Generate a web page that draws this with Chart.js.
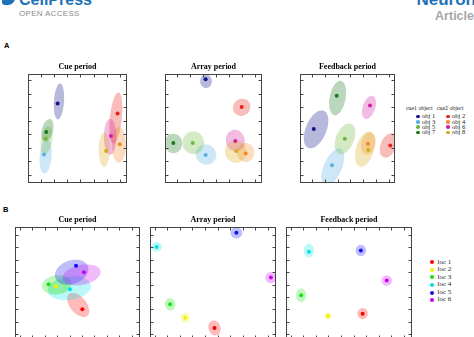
<!DOCTYPE html>
<html>
<head>
<meta charset="utf-8">
<script src="https://cdn.jsdelivr.net/npm/chart.js@4.4.1/dist/chart.umd.min.js"></script>
<style>
  body { margin: 0; width: 474px; height: 337px; overflow: hidden; background: #fff; position: relative; }
  canvas, .txt { position: absolute; }
  .txt { white-space: nowrap; }
  .sans { font-family: "Liberation Sans", Arial, sans-serif; }
  .serif { font-family: "Liberation Serif", "Times New Roman", serif; }
  .dot { position: absolute; border-radius: 50%; }
</style>
</head>
<body>
<div class="txt sans" style="left:2px;top:-8px;width:13px;height:13px;border-radius:0 0 7px 3px;background:#1d72b8"></div>
<div class="txt sans" style="left:19px;top:-8px;font-size:16px;line-height:16px;font-weight:bold;color:#1d72b8">CellPress</div>
<div class="txt sans" style="left:19px;top:10px;font-size:8px;line-height:8px;color:#8a8a8a;letter-spacing:0.3px">OPEN ACCESS</div>
<div class="txt sans" style="right:-2px;top:-9px;font-size:17px;line-height:17px;font-weight:bold;color:#1d72b8">Neuron</div>
<div class="txt sans" style="right:0px;top:10px;font-size:12.5px;line-height:13px;font-weight:bold;color:#a8a8a8">Article</div>
<div class="txt sans" style="left:4px;top:42px;font-size:7.5px;line-height:8px;font-weight:bold">A</div>
<div class="txt sans" style="left:3px;top:206px;font-size:7.5px;line-height:8px;font-weight:bold">B</div>

<canvas id="a1"></canvas>
<canvas id="a2"></canvas>
<canvas id="a3"></canvas>
<canvas id="b1"></canvas>
<canvas id="b2"></canvas>
<canvas id="b3"></canvas>
<div id="legendA"></div>
<div id="legendB"></div>

<script>
// ---- panel A: object identity ----
const OBJ_LABELS = ['obj 1', 'obj 2', 'obj 3', 'obj 4', 'obj 5', 'obj 6', 'obj 7', 'obj 8'];
const OBJ_COLORS = ['#14148f', '#e8221c', '#5aaee6', '#f28a2a', '#6cb840', '#d11d9e', '#1f7a1f', '#d9a91c'];

// ---- panel B: location ----
const LOC_LABELS = ['loc 1', 'loc 2', 'loc 3', 'loc 4', 'loc 5', 'loc 6'];
const LOC_COLORS = ['#ff0000', '#f2f200', '#18e018', '#00e2e2', '#1010f0', '#c800f0'];

const A_X_TICKS = [0, 1, 2, 3, 4, 5, 6];
const A_Y_TICKS = [0, 1, 2, 3, 4, 5, 6, 7];
const B_X_TICKS = [0, 1, 2, 3, 4, 5, 6, 7, 8, 9];
const B_Y_TICKS = [0, 1, 2, 3, 4, 5, 6, 7, 8];

// class means [x, y], in label order
const A_CUE_MEANS = [[1.28, 5.28], [5.79, 4.54], [0.25, 1.50], [5.96, 2.27], [0.38, 2.69], [5.29, 2.87], [0.42, 3.16], [4.93, 1.76]];
const A_ARRAY_MEANS = [[2.17, 7.06], [4.94, 5.01], [2.17, 1.46], [5.25, 1.58], [1.18, 2.35], [4.45, 2.50], [-0.31, 2.35], [4.52, 1.76]];
const A_FEEDBACK_MEANS = [[0.13, 3.39], [6.13, 2.17], [1.56, 0.72], [4.38, 2.30], [2.56, 2.67], [4.54, 5.13], [1.93, 5.85], [4.41, 1.83]];

// covariance ellipses [cx, cy, semi-axis x, semi-axis y, rotation deg]
const A_CUE_ELLIPSES = [
  [1.38, 5.43, 0.38, 1.33, -4], [5.66, 4.20, 0.45, 1.90, -6], [0.38, 1.36, 0.45, 1.26, -5], [5.89, 2.22, 0.53, 1.33, 0],
  [0.45, 2.55, 0.42, 1.05, -10], [5.23, 2.81, 0.47, 1.33, 0], [0.51, 3.30, 0.42, 0.85, -15], [4.78, 1.85, 0.41, 1.26, 0]
];
const A_ARRAY_ELLIPSES = [
  [2.20, 6.91, 0.45, 0.50, 0], [4.94, 4.99, 0.68, 0.62, 30], [2.20, 1.50, 0.80, 0.74, -20], [5.25, 1.65, 0.66, 0.70, 0],
  [1.22, 2.37, 0.83, 0.84, 15], [4.45, 2.54, 0.72, 0.80, 20], [-0.31, 2.32, 0.68, 0.72, 0], [4.48, 1.73, 0.83, 0.83, 0]
];
const A_FEEDBACK_ELLIPSES = [
  [0.31, 3.36, 0.80, 1.50, -25], [5.98, 2.17, 0.60, 0.95, -25], [1.62, 0.57, 0.70, 1.50, -25], [4.41, 2.32, 0.55, 0.85, -15],
  [2.58, 2.67, 0.70, 1.20, -25], [4.46, 4.99, 0.48, 0.90, -20], [2.00, 5.68, 0.62, 1.30, -12], [4.15, 1.90, 0.70, 1.35, -18]
];

const B_CUE_MEANS = [[5.03, 2.00], [2.90, 3.86], [2.31, 4.02], [4.03, 3.62], [4.52, 5.51], [5.16, 5.00]];
const B_ARRAY_MEANS = [[4.76, 0.49], [2.42, 1.32], [1.21, 2.40], [0.13, 7.04], [6.51, 8.18], [9.27, 4.56]];
const B_FEEDBACK_MEANS = [[5.73, 1.65], [2.96, 1.46], [0.81, 3.13], [1.43, 6.66], [5.59, 6.75], [7.66, 4.32]];

const B_CUE_ELLIPSES = [
  [4.70, 2.35, 0.65, 1.15, 40], [3.10, 3.80, 0.90, 0.55, 5], [2.96, 3.97, 1.20, 0.78, 8],
  [3.98, 3.70, 1.75, 0.95, 8], [4.17, 5.00, 1.40, 0.95, 20], [4.98, 4.78, 1.55, 0.80, 12]
];
const B_ARRAY_ELLIPSES = [
  [4.76, 0.49, 0.48, 0.62, 20], [2.42, 1.32, 0.36, 0.42, 0], [1.21, 2.40, 0.42, 0.50, 10],
  [0.13, 7.04, 0.42, 0.38, 0], [6.51, 8.18, 0.47, 0.45, 0], [9.27, 4.56, 0.45, 0.45, 0]
];
const B_FEEDBACK_ELLIPSES = [
  [5.73, 1.65, 0.42, 0.45, 0], [2.96, 1.46, 0.30, 0.30, 0], [0.81, 3.13, 0.40, 0.55, 0],
  [1.43, 6.75, 0.40, 0.55, 0], [5.59, 6.75, 0.42, 0.45, 0], [7.66, 4.32, 0.42, 0.42, 0]
];

const TITLE_BLOCK = 12;
const FRAME_COLOR = '#444';

function rgba(hex, a) {
  const n = parseInt(hex.slice(1), 16);
  return `rgba(${(n >> 16) & 255}, ${(n >> 8) & 255}, ${n & 255}, ${a})`;
}

function ellipsePlugin(ellipses, colors, alpha) {
  return {
    id: 'covEllipses',
    beforeDatasetsDraw(chart) {
      const { ctx, chartArea: a, scales: { x, y } } = chart;
      ctx.save();
      ctx.beginPath();
      ctx.rect(a.left, a.top, a.width, a.height);
      ctx.clip();
      ellipses.forEach((e, i) => {
        const [cx, cy, ra, rb, deg] = e;
        const th = deg * Math.PI / 180;
        ctx.beginPath();
        for (let k = 0; k <= 64; k++) {
          const t = k / 64 * 2 * Math.PI;
          const u = ra * Math.cos(t), v = rb * Math.sin(t);
          const px = x.getPixelForValue(cx + u * Math.cos(th) - v * Math.sin(th));
          const py = y.getPixelForValue(cy + u * Math.sin(th) + v * Math.cos(th));
          if (k) ctx.lineTo(px, py); else ctx.moveTo(px, py);
        }
        ctx.closePath();
        ctx.fillStyle = rgba(colors[i], alpha);
        ctx.fill();
      });
      ctx.restore();
    }
  };
}

// box frame with inward tick marks on all four sides
function framePlugin(xTicks, yTicks) {
  return {
    id: 'boxFrame',
    afterDraw(chart) {
      const { ctx, chartArea: a, scales: { x, y } } = chart;
      const L = Math.floor(a.left) + 0.5, R = Math.ceil(a.right) - 0.5;
      const T = Math.floor(a.top) + 0.5, B = Math.ceil(a.bottom) - 0.5;
      const len = 3;
      ctx.save();
      ctx.strokeStyle = FRAME_COLOR;
      ctx.lineWidth = 1;
      ctx.strokeRect(L, T, R - L, B - T);
      ctx.beginPath();
      xTicks.forEach(v => {
        const px = Math.round(x.getPixelForValue(v)) + 0.5;
        ctx.moveTo(px, B); ctx.lineTo(px, B - len);
        ctx.moveTo(px, T); ctx.lineTo(px, T + len);
      });
      yTicks.forEach(v => {
        const py = Math.round(y.getPixelForValue(v)) + 0.5;
        ctx.moveTo(L, py); ctx.lineTo(L + len, py);
        ctx.moveTo(R, py); ctx.lineTo(R - len, py);
      });
      ctx.stroke();
      ctx.restore();
    }
  };
}

function makePanel(id, box, title, xr, yr, xTicks, yTicks, means, ellipses, colors, alpha, dotR) {
  const canvas = document.getElementById(id);
  canvas.width = box.w + 2;
  canvas.height = box.h + TITLE_BLOCK + 1;
  canvas.style.left = (box.x - 1) + 'px';
  canvas.style.top = (box.y - TITLE_BLOCK) + 'px';
  return new Chart(canvas, {
    type: 'scatter',
    data: {
      datasets: [{
        data: means.map(([x, y]) => ({ x, y })),
        pointBackgroundColor: colors,
        pointBorderWidth: 0,
        pointRadius: dotR,
        pointHoverRadius: dotR
      }]
    },
    options: {
      responsive: false,
      animation: false,
      events: [],
      layout: { autoPadding: false, padding: { left: 1, right: 1, top: 0, bottom: 1 } },
      plugins: {
        legend: { display: false },
        tooltip: { enabled: false },
        title: {
          display: true,
          text: title,
          color: '#000',
          padding: { top: 0, bottom: 2.4 },
          font: { family: "'Liberation Serif', serif", size: 8, weight: 'bold', lineHeight: 1.2 }
        }
      },
      scales: {
        x: { type: 'linear', min: xr[0], max: xr[1], display: false },
        y: { type: 'linear', min: yr[0], max: yr[1], display: false }
      }
    },
    plugins: [ellipsePlugin(ellipses, colors, alpha), framePlugin(xTicks, yTicks)]
  });
}

const A_XR = [-0.95, 6.5], A_YR = [-0.6, 7.45];
const B_XR = [-0.4, 9.68], B_YR = [-0.4, 8.65];

makePanel('a1', { x: 28, y: 74, w: 99, h: 109 }, 'Cue period', A_XR, A_YR, A_X_TICKS, A_Y_TICKS, A_CUE_MEANS, A_CUE_ELLIPSES, OBJ_COLORS, 0.3, 2);
makePanel('a2', { x: 165, y: 74, w: 97, h: 109 }, 'Array period', A_XR, A_YR, A_X_TICKS, A_Y_TICKS, A_ARRAY_MEANS, A_ARRAY_ELLIPSES, OBJ_COLORS, 0.3, 2);
makePanel('a3', { x: 300, y: 74, w: 95, h: 109 }, 'Feedback period', A_XR, A_YR, A_X_TICKS, A_Y_TICKS, A_FEEDBACK_MEANS, A_FEEDBACK_ELLIPSES, OBJ_COLORS, 0.3, 2);
makePanel('b1', { x: 15, y: 227, w: 125, h: 112 }, 'Cue period', B_XR, B_YR, B_X_TICKS, B_Y_TICKS, B_CUE_MEANS, B_CUE_ELLIPSES, LOC_COLORS, 0.27, 2);
makePanel('b2', { x: 150, y: 227, w: 126, h: 112 }, 'Array period', B_XR, B_YR, B_X_TICKS, B_Y_TICKS, B_ARRAY_MEANS, B_ARRAY_ELLIPSES, LOC_COLORS, 0.27, 2);
makePanel('b3', { x: 286, y: 227, w: 126, h: 112 }, 'Feedback period', B_XR, B_YR, B_X_TICKS, B_Y_TICKS, B_FEEDBACK_MEANS, B_FEEDBACK_ELLIPSES, LOC_COLORS, 0.27, 2);

// legends
function addText(parent, left, top, text, size) {
  const d = document.createElement('div');
  d.className = 'txt serif';
  d.style.cssText += `left:${left}px;top:${top}px;font-size:${size}px;line-height:${size}px;color:#222`;
  d.textContent = text;
  parent.appendChild(d);
}
function addDot(parent, cx, cy, r, color) {
  const d = document.createElement('div');
  d.className = 'dot';
  d.style.cssText += `left:${cx - r}px;top:${cy - r}px;width:${2 * r}px;height:${2 * r}px;background:${color}`;
  parent.appendChild(d);
}

const legA = document.getElementById('legendA');
addText(legA, 406, 106, 'cue1 object', 5.8);
addText(legA, 437, 106, 'cue2 object', 5.8);
const A_ROW_Y = [116.7, 122, 127.2, 132.4];
A_ROW_Y.forEach((yy, r) => {
  [0, 1].forEach(c => {
    const i = r * 2 + c;
    const dx = c ? 448 : 418;
    addDot(legA, dx, yy, 1.8, OBJ_COLORS[i]);
    addText(legA, dx + 4, yy - 3.5, OBJ_LABELS[i], 6.5);
  });
});

const legB = document.getElementById('legendB');
LOC_LABELS.forEach((lab, i) => {
  const yy = 262.3 + i * 7.55;
  addDot(legB, 432.3, yy, 2, LOC_COLORS[i]);
  addText(legB, 437.5, yy - 3.8, lab, 7);
});
</script>
</body>
</html>
